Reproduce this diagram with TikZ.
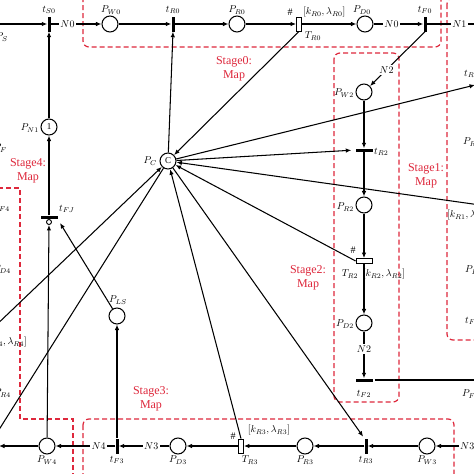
\documentclass[tikz,border=0pt]{standalone}
\usepackage{fontspec}
\setmainfont{Liberation Serif}
\usetikzlibrary{arrows.meta}
\definecolor{stagered}{RGB}{222,40,60}
\begin{document}
\begin{tikzpicture}[x=1pt,y=-1pt,
  arc/.style={line width=1.05pt,-{Latex[length=5.5pt,width=4.5pt]}},
  place/.style={circle,draw,line width=1.05pt,minimum size=16pt,inner sep=0pt,font=\fontsize{9}{10}\selectfont},
  vbar/.style={fill=black,minimum width=3pt,minimum height=15pt,inner sep=0pt},
  hbar/.style={fill=black,minimum width=17pt,minimum height=3pt,inner sep=0pt},
  vtimed/.style={draw,fill=white,line width=0.8pt,minimum width=5pt,minimum height=14pt,inner sep=0pt},
  htimed/.style={draw,fill=white,line width=0.8pt,minimum width=16pt,minimum height=5pt,inner sep=0pt},
  lbl/.style={font=\fontsize{10}{12}\selectfont,inner sep=1pt},
  onlbl/.style={lbl,fill=white,inner sep=1.5pt},
  stagebox/.style={draw=stagered,line width=1.2pt,dash pattern=on 5pt off 3pt},
  stagetxt/.style={text=stagered,font=\fontsize{12}{14}\selectfont,align=center}
]
\useasboundingbox (0,0) rectangle (474,474);
\fill[white] (0,0) rectangle (474,474);

% stage boxes
\draw[stagebox,rounded corners=6pt] (83,-9) rectangle (441,47);
\draw[stagebox,rounded corners=6pt] (447,-2) rectangle (495,340);
\draw[stagebox,rounded corners=6pt] (334,53) rectangle (399,402);
\draw[stagebox,rounded corners=6pt] (83,419) rectangle (454,495);
\draw[stagebox] (-10,188) -- (20,188) -- (20,419) -- (73,419) -- (73,495);

\node[stagetxt] (s0) at (234,69) {Stage0:\\Map};
\node[stagetxt] (s1) at (426,176) {Stage1:\\Map};
\node[stagetxt] (s2) at (308,278) {Stage2:\\Map};
\node[stagetxt] (s3) at (151,399) {Stage3:\\Map};
\node[stagetxt] (s4) at (28,171) {Stage4:\\Map};

% top row
\coordinate (PSc) at (-5,24);
\node[vbar] (tS0) at (49,24) {};
\node[place] (PW0) at (110,24) {};
\node[vbar] (tR0) at (173,24) {};
\node[place] (PR0) at (237,24) {};
\node[vtimed] (TR0) at (299,24) {};
\node[place] (PD0) at (365,24) {};
\node[vbar] (tF0) at (425,24) {};
\coordinate (N1c) at (485,24);

\node[lbl] (ltS0) at (49,10) {$t_{S0}$};
\node[lbl] (lPW0) at (111,10) {$P_{W0}$};
\node[lbl] (ltR0) at (173,10) {$t_{R0}$};
\node[lbl] (lPR0) at (237,10) {$P_{R0}$};
\node[lbl] (hTR0) at (290,12) {\#};
\node[lbl,anchor=west] (kTR0) at (302,12) {$[k_{R0},\lambda_{R0}]$};
\node[lbl] (lTR0) at (313,36) {$T_{R0}$};
\node[lbl] (lPD0) at (362,10) {$P_{D0}$};
\node[lbl] (ltF0) at (425,10) {$t_{F0}$};
\node[lbl,anchor=east] (lPS) at (9,37) {$P_{S}$};

\draw[arc] (PSc) -- (tS0);
\draw[arc] (tS0) -- node[onlbl,pos=0.33] {$N0$} (PW0);
\draw[arc] (PW0) -- (tR0);
\draw[arc] (tR0) -- (PR0);
\draw[arc] (PR0) -- (TR0);
\draw[arc] (TR0) -- (PD0);
\draw[arc] (PD0) -- node[onlbl,pos=0.36] {$N0$} (tF0);
\draw[arc] (tF0) -- node[onlbl,pos=0.56] {$N1$} (N1c);

% stage 2 column
\node[place] (PW2) at (364,92) {};
\node[hbar] (tR2) at (364,150) {};
\node[place] (PR2) at (364,205) {};
\node[htimed] (TR2) at (364,261) {};
\node[place] (PD2) at (364,323) {};
\node[hbar] (tF2) at (364,380) {};
\coordinate (F2c) at (485,380);

\node[lbl,anchor=east] (lPW2) at (355,93) {$P_{W2}$};
\node[lbl,anchor=west] (ltR2) at (373,152) {$t_{R2}$};
\node[lbl,anchor=east] (lPR2) at (355,207) {$P_{R2}$};
\node[lbl] (hTR2) at (353,250) {\#};
\node[lbl] (lTR2) at (350,274) {$T_{R2}$};
\node[lbl] (kTR2) at (384,274) {$[k_{R2},\lambda_{R2}]$};
\node[lbl,anchor=east] (lPD2) at (355,324) {$P_{D2}$};
\node[lbl] (ltF2) at (364,394) {$t_{F2}$};
\node[lbl,anchor=west] (lPF2) at (461,394) {$P_{F}$};

\draw[arc] (tF0.south) -- node[onlbl,pos=0.7] {$N2$} (PW2);
\draw[arc] (PW2) -- (tR2);
\draw[arc] (tR2) -- (PR2);
\draw[arc] (PR2) -- (TR2);
\draw[arc] (TR2) -- (PD2);
\draw[arc] (PD2) -- node[onlbl,pos=0.38] {$N2$} (tF2);
\draw[arc,shorten <=2pt] (tF2.east) -- (F2c);

% bottom row
\coordinate (N3c) at (485,446);
\node[place] (PW3) at (427,446) {};
\node[vbar] (tR3) at (366,446) {};
\node[place] (PR3) at (305,446) {};
\node[vtimed] (TR3) at (241,446) {};
\node[place] (PD3) at (178,446) {};
\node[vbar] (tF3) at (117,446) {};
\node[place] (PW4) at (47,446) {};
\coordinate (W4c) at (-1,446);

\node[lbl] (lPW3) at (427,460) {$P_{W3}$};
\node[lbl] (ltR3) at (366,460) {$t_{R3}$};
\node[lbl] (lPR3) at (305,460) {$P_{R3}$};
\node[lbl] (hTR3) at (233,436) {\#};
\node[lbl] (kTR3) at (269,430) {$[k_{R3},\lambda_{R3}]$};
\node[lbl] (lTR3) at (250,460) {$T_{R3}$};
\node[lbl] (lPD3) at (178,460) {$P_{D3}$};
\node[lbl] (ltF3) at (117,460) {$t_{F3}$};
\node[lbl] (lPW4) at (47,460) {$P_{W4}$};

\draw[arc] (N3c) -- node[onlbl,pos=0.36] {$N3$} (PW3);
\draw[arc] (PW3) -- (tR3);
\draw[arc] (tR3) -- (PR3);
\draw[arc] (PR3) -- (TR3);
\draw[arc] (TR3) -- (PD3);
\draw[arc] (PD3) -- node[onlbl,pos=0.36] {$N3$} (tF3);
\draw[arc] (tF3) -- node[onlbl,pos=0.28] {$N4$} (PW4);
\draw[arc] (PW4) -- (W4c);

% left column
\node[place] (PN1) at (49,127) {1};
\node[lbl,anchor=east] (lPN1) at (40,128) {$P_{N1}$};
\node[hbar] (tFJ) at (49,217) {};
\node[circle,draw,line width=0.9pt,minimum size=5pt,inner sep=0pt] (inh) at (49,222) {};
\node[lbl,anchor=west] (ltFJ) at (58,209) {$t_{FJ}$};
\coordinate (tFJin) at (60,223);
\node[place] (PLS) at (117,316) {};
\node[lbl] (lPLS) at (118,300) {$P_{LS}$};

\draw[arc] (PN1) -- (tS0);
\draw[arc] (tFJ) -- (PN1);
\draw[arc] (PW4) -- (inh);
\draw[arc] (PLS) -- (tFJin);
\draw[arc] (tF3) -- (PLS);

% left edge partial labels
\node[lbl,anchor=east] (lPF) at (8,148) {$P_{F}$};
\node[lbl,anchor=east] (ltF4) at (11,208) {$t_{F4}$};
\node[lbl,anchor=east] (lPD4) at (12,269) {$P_{D4}$};
\node[lbl,anchor=east] (kTR4) at (28,342) {$[k_{R4},\lambda_{R4}]$};
\node[lbl,anchor=east] (lPR4) at (12,393) {$P_{R4}$};

% right edge partial labels
\node[lbl,anchor=west] (ltR1) at (463,74) {$t_{R1}$};
\node[lbl,anchor=west] (lPR1) at (462,142) {$P_{R1}$};
\node[lbl,anchor=west] (kTR1) at (446,215) {$[k_{R1},\lambda_{R1}]$};
\node[lbl,anchor=west] (lPD1) at (464,270) {$P_{D1}$};
\node[lbl,anchor=west] (ltF1) at (464,321) {$t_{F1}$};

% shared place P_C
\node[place] (PC) at (168,161) {C};
\node[lbl,anchor=east] (lPC) at (158,161) {$P_{C}$};
\coordinate (tR1c) at (475,85);
\coordinate (TR1c) at (480,205);
\coordinate (TR4c) at (-10,331);
\coordinate (tR4c) at (-10,444);

\draw[arc] (TR0.south) -- (PC);
\draw[arc] (PC) -- (tR0.south);
\draw[arc] (PC) -- (tR1c);
\draw[arc] (TR1c) -- (PC);
\draw[arc,shorten >=4pt] (PC) -- (tR2.west);
\draw[arc] (TR2.west) -- (PC);
\draw[arc,shorten >=2pt] (PC) -- (tR3.north west);
\draw[arc] (TR3.north) -- (PC);
\draw[arc] (TR4c) -- (PC);
\draw[arc] (PC) -- (tR4c);
\end{tikzpicture}
\end{document}
